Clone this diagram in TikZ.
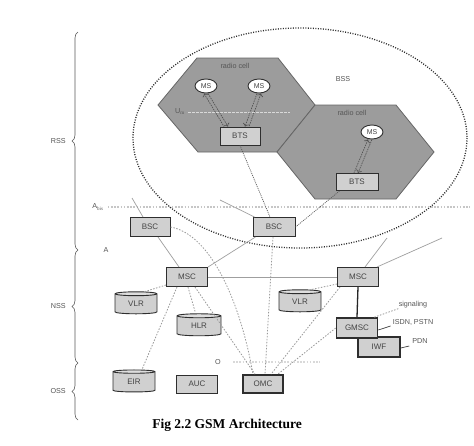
\documentclass[tikz,border=0pt]{standalone}
\usepackage{fontspec}
\setmainfont{Liberation Serif}
\setsansfont{Liberation Sans}
\usetikzlibrary{shapes.geometric,decorations.pathreplacing,arrows.meta,calc}
\definecolor{hexfill}{HTML}{9C9C9C}
\definecolor{hexline}{HTML}{666666}
\definecolor{boxfill}{HTML}{D0D0D0}
\definecolor{boxline}{HTML}{2E2E2E}
\definecolor{txt}{HTML}{444444}
\definecolor{lbl}{HTML}{555555}
\begin{document}
\begin{tikzpicture}[x=1pt,y=-1pt,
  lab/.style={font=\sffamily\fontsize{7.2}{8}\selectfont, text=lbl, inner sep=0pt},
  unit/.style={draw=boxline, fill=boxfill, line width=1pt, minimum width=40pt, minimum height=18pt, inner sep=0pt, font=\sffamily\fontsize{8}{9}\selectfont, text=txt},
  thickunit/.style={unit, line width=1.6pt},
  db/.style={cylinder, shape border rotate=90, aspect=0.25, draw=boxline, line width=0.9pt, cylinder uses custom fill, cylinder body fill=boxfill, cylinder end fill=boxfill!70!white, minimum width=42pt, minimum height=22pt, inner sep=0pt, font=\sffamily\fontsize{8}{9}\selectfont, text=txt},
  mobile/.style={ellipse, draw=boxline, line width=0.9pt, fill=white, minimum width=22pt, minimum height=14pt, inner sep=0pt, font=\sffamily\fontsize{7}{8}\selectfont, text=txt},
  conn/.style={draw=gray!75, line width=0.7pt},
  oam/.style={draw=gray!80, line width=0.8pt, dash pattern=on 1.5pt off 1.5pt},
  fine/.style={draw=gray!70!black, line width=0.7pt, dash pattern=on 1pt off 1pt},
  marr/.style={draw=gray!60!black, line width=0.6pt, dash pattern=on 1.5pt off 1pt, -{Stealth[length=3.5pt,width=2.5pt]}},
  bracestyle/.style={draw=gray!70!black, line width=0.6pt, decorate, decoration={brace, amplitude=6pt}},
]
\useasboundingbox (0,0) rectangle (474,445);
\fill[white] (0,0) rectangle (474,445);

% BSS ellipse
\coordinate (ec) at (300,138);
\draw[gray!35!black, line width=1.3pt, dash pattern=on 1pt off 1.5pt] (ec) ellipse [x radius=167, y radius=110];

% hexagons (radio cells)
\draw[fill=hexfill, draw=hexline, line width=0.8pt] (197,58) -- (278,58) -- (315,105) -- (277,152) -- (198,152) -- (158,105) -- cycle;
\draw[fill=hexfill, draw=hexline, line width=0.8pt] (315,105) -- (396,105) -- (434,152) -- (396,199) -- (315,199) -- (277,152) -- cycle;

\node[lab] (rc1) at (235,66) {radio cell};
\node[lab] (rc2) at (352,113) {radio cell};
\node[lab] (bsslab) at (343,79) {BSS};

% Um interface
\node[lab] (um) at (180,112) {U$_{\mathrm{m}}$};
\coordinate (umE) at (290,112);
\draw[gray!30, line width=0.9pt, dash pattern=on 2.5pt off 1.5pt] (um.east) ++(3,0) -- (umE);

\node[mobile] (MS1) at (206,86) {MS};
\node[mobile] (MS2) at (259,86) {MS};
\node[mobile] (MO) at (372,132) {MS};
\node[unit] (BTS) at (240,136) {BTS};
\node[unit, minimum width=42pt, minimum height=17pt] (BTC) at (357,182) {BTS};

\draw[marr,<-] ($(MS1.south)+(-2,0)$) -- ($(BTS.north)+(-16,0)$);
\draw[marr,->] ($(MS1.south)+(2,0)$) -- ($(BTS.north)+(-12,0)$);
\draw[marr,->] ($(MS2.south)+(-2,0)$) -- ($(BTS.north)+(5,0)$);
\draw[marr,<-] ($(MS2.south)+(2,0)$) -- ($(BTS.north)+(9,0)$);
\draw[marr,<-] ($(MO.south)+(-4,0)$) -- ($(BTC.north)+(-3,0)$);
\draw[marr,->] ($(MO.south)+(0,0)$) -- ($(BTC.north)+(1,0)$);

% Abis interface
\node[lab] (abis) at (98,207) {A$_{\mathrm{bis}}$};
\coordinate (abisE) at (470,207);
\draw[gray!45, line width=1.1pt, dash pattern=on 1.6pt off 1.6pt] (abis.east) ++(4,0) -- (abisE);
\node[lab] (alab) at (106,250) {A};

% BSC
\node[unit, minimum height=19pt] (BSC1) at (150,227) {BSC};
\node[unit, minimum width=42pt, minimum height=19pt] (BSC2) at (274,227) {BSC};
\node[unit, minimum width=41pt, minimum height=19pt] (MSC1) at (187,277) {MSC};
\node[unit, minimum width=41pt, minimum height=19pt] (MSC2) at (358,277) {MSC};

\coordinate (s1) at (132,198);
\coordinate (s2) at (220,200);
\coordinate (s3) at (387,238);
\coordinate (s4) at (442,238);
\draw[conn] ($(BSC1.north)+(-7,0)$) -- (s1);
\draw[conn] ($(BSC2.north west)+(2,0)$) -- (s2);
\draw[fine] (BTS.south) -- ($(BSC2.north)+(-4,0)$);
\draw[fine] ($(BTC.south west)+(4,0)$) -- (BSC2.east);
\draw[conn] ($(BSC1.south)+(8,0)$) -- ($(MSC1.north)+(-8,0)$);
\draw[conn] (MSC1.north east) -- ($(BSC2.south west)+(3,0)$);
\draw[conn] (MSC1.east) -- (MSC2.west);
\draw[conn] ($(MSC2.north)+(7,0)$) -- (s3);
\draw[conn] ($(MSC2.north east)+(-2,0)$) -- (s4);

% databases and other units
\node[db] (VLR1) at (136,304) {VLR};
\node[db, minimum width=44pt] (HLR) at (199,326) {HLR};
\node[db] (VLR2) at (300,302) {VLR};
\node[db] (EIR) at (134,382) {EIR};
\node[unit, minimum width=41pt] (AUC) at (197,384) {AUC};
\node[thickunit] (OMC) at (263,384) {OMC};
\node[thickunit, minimum width=42pt, minimum height=20pt] (IWF) at (379,347) {IWF};
\node[thickunit, minimum width=41pt, minimum height=20pt] (GMSC) at (357,328) {GMSC};

\draw[black!85, line width=1.3pt] (MSC2.south) -- (GMSC.north);

% O interface
\node[lab] (olab) at (218,362) {O};
\coordinate (oE) at (320,362);
\draw[gray!30, line width=1.2pt, dash pattern=on 1.6pt off 1.6pt] (olab.east) ++(12,0) -- (oE);

% O&M and database connections
\draw[oam] (BSC1.east) .. controls (210,234) and (240,300) .. ($(OMC.north)+(-10,0)$);
\draw[oam] ($(MSC1.south)+(8,0)$) -- ($(OMC.north)+(-8,0)$);
\draw[oam] ($(BSC2.south)+(-1,0)$) -- ($(OMC.north)+(2,0)$);
\draw[oam] ($(MSC2.south west)+(3,0)$) -- ($(OMC.north)+(8,0)$);
\draw[oam] (GMSC.west) -- ($(OMC.north east)+(-6,0)$);
\draw[oam] ($(MSC1.south)+(-10,0)$) -- ($(EIR.north)+(8,0)$);
\draw[oam] ($(MSC1.south)+(1,0)$) -- ($(HLR.north)+(-4,-2)$);
\draw[oam] ($(MSC1.south west)+(0,-2)$) -- ($(VLR1.north east)+(-4,0)$);
\draw[oam] ($(MSC2.south west)+(0,-3)$) -- ($(VLR2.north east)+(-2,0)$);

% external labels
\node[lab] (sig) at (413,305) {signaling};
\node[lab] (isdn) at (413,322) {ISDN, PSTN};
\node[lab] (pdn) at (420,341) {PDN};
\draw[oam] ($(GMSC.north east)+(-4,0)$) -- (sig.south west);
\draw[black!75, line width=0.7pt] ($(GMSC.east)+(0,2)$) -- ($(isdn.west)+(-2,4)$);
\draw[black!75, line width=0.7pt] ($(IWF.east)+(0,1)$) -- ($(pdn.west)+(-3,5)$);

% subsystem braces
\coordinate (b0) at (78,32);
\coordinate (b1) at (78,250);
\coordinate (b2) at (78,363);
\coordinate (b3) at (78,420);
\draw[bracestyle] (b1) -- (b0);
\draw[bracestyle] (b2) -- (b1);
\draw[bracestyle] (b3) -- (b2);
\node[lab, anchor=east] (rss) at (66,141) {RSS};
\node[lab, anchor=east] (nss) at (66,306) {NSS};
\node[lab, anchor=east] (oss) at (66,391) {OSS};

% caption
\node[font=\bfseries\fontsize{13.5}{15}\selectfont] (cap) at (227,425) {Fig 2.2 GSM Architecture};
\end{tikzpicture}
\end{document}
